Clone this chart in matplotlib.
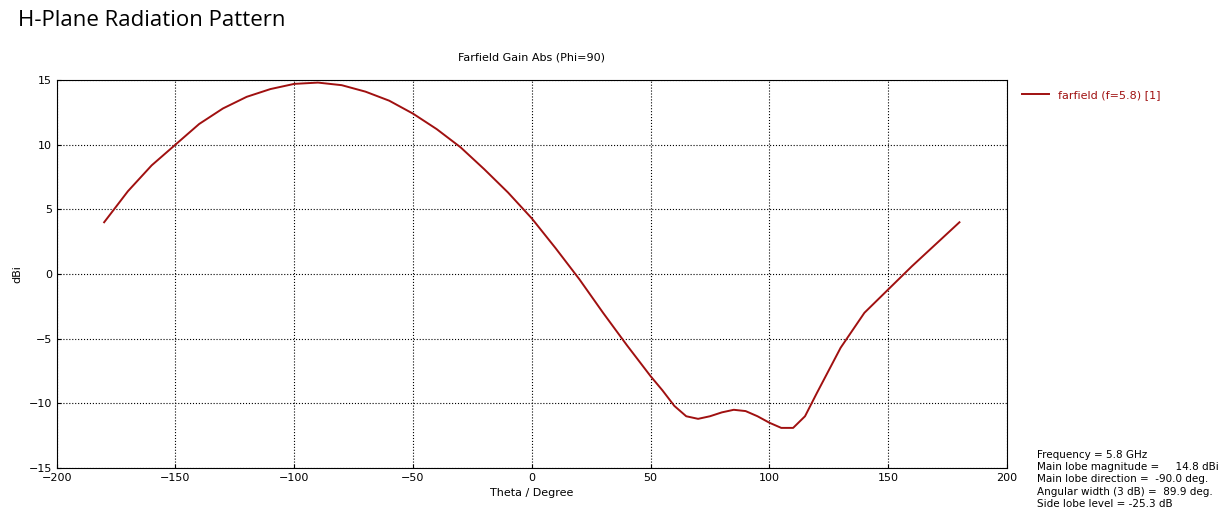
import matplotlib
matplotlib.use('Agg')
import matplotlib.pyplot as plt
import numpy as np

# theta (deg) and gain (dBi)
theta = [-180, -170, -160, -150, -140, -130, -120, -110, -100, -90, -80, -70, -60, -50,
         -40, -30, -20, -10, 0, 10, 20, 30, 40, 50, 55, 60, 65, 70, 75, 80, 85, 90, 95,
         100, 105, 110, 115, 120, 130, 140, 150, 160, 170, 180]
gain = [4.0, 6.4, 8.4, 10.0, 11.6, 12.8, 13.7, 14.3, 14.7, 14.8, 14.6, 14.1, 13.4, 12.4,
        11.2, 9.8, 8.1, 6.3, 4.3, 2.0, -0.4, -3.0, -5.5, -7.9, -9.0, -10.2, -11.0, -11.2,
        -11.0, -10.7, -10.5, -10.6, -11.0, -11.5, -11.9, -11.9, -11.0, -9.2, -5.7, -3.0, -1.2,
        0.6, 2.3, 4.0]
stats = ["Frequency = 5.8 GHz",
         "Main lobe magnitude =     14.8 dBi",
         "Main lobe direction =  -90.0 deg.",
         "Angular width (3 dB) =  89.9 deg.",
         "Side lobe level = -25.3 dB"]

fig = plt.figure(figsize=(12.31, 5.25), dpi=100)
ax = fig.add_axes([0.046, 0.1086, 0.772, 0.739])
ax.plot(theta, gain, color='#a01010', lw=1.4, label='farfield (f=5.8) [1]')
ax.set_xlim(-200, 200)
ax.set_ylim(-15, 15)
ax.set_xticks(np.arange(-200, 201, 50))
ax.set_yticks(np.arange(-15, 16, 5))
ax.grid(True, color='black', ls=':', lw=0.8)
ax.tick_params(labelsize=8, direction='in', length=3)
ax.set_xlabel('Theta / Degree', fontsize=8)
ax.set_ylabel('dBi', fontsize=8)
ax.set_title('Farfield Gain Abs (Phi=90)', fontsize=8, pad=14)
ax.legend(loc='upper left', bbox_to_anchor=(1.005, 1.0), frameon=False, fontsize=8,
          handlelength=2.5, labelcolor='#a01010')

fig.text(0.015, 0.96, 'H-Plane Radiation Pattern', fontsize=16, va='center',
         family='Open Sans')
fig.text(0.842, 0.03, "\n".join(stats), fontsize=7.5, va='bottom', linespacing=1.3)

fig.savefig('out.png', dpi=100)
plt.close(fig)
